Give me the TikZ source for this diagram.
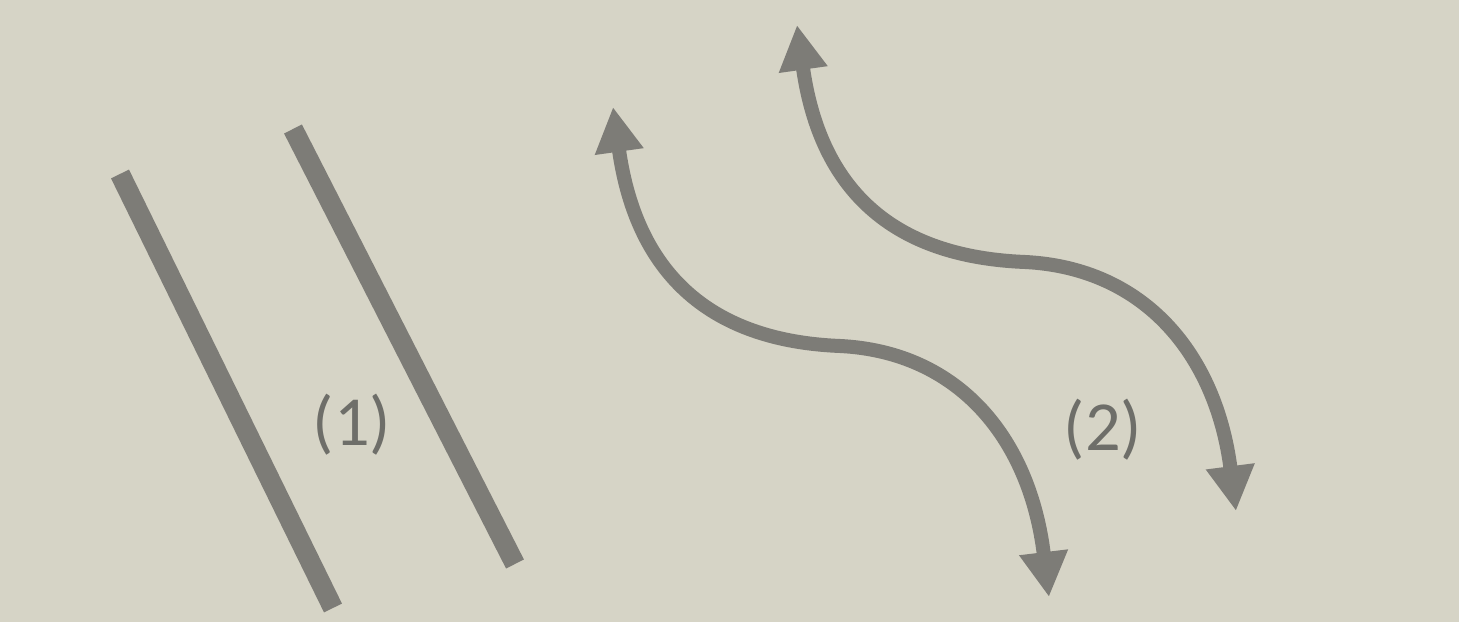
\documentclass[tikz,border=0pt]{standalone}
\usepackage{fontspec}
\setmainfont{Carlito}
\usetikzlibrary{arrows.meta}
\definecolor{paper}{RGB}{214,212,198}
\definecolor{ink}{RGB}{125,124,119}
\definecolor{txt}{RGB}{110,110,105}
\tikzset{
  bar/.style={draw=ink, line width=0.2cm},
  curvearrow/.style={draw=ink, line width=0.14cm, {Triangle[width=0.46cm,length=0.45cm]}-{Triangle[width=0.46cm,length=0.45cm]}},
  lbl/.style={text=txt, font=\fontsize{20pt}{24pt}\selectfont, inner sep=0pt}
}
\begin{document}
\begin{tikzpicture}[x=0.01cm,y=-0.01cm]
\fill[paper] (0,0) rectangle (1459,622);
\useasboundingbox (0,0) rectangle (1459,622);
% straight lines
\coordinate (a1) at (120,174);
\coordinate (a2) at (333,608);
\coordinate (b1) at (293,129);
\coordinate (b2) at (515,564);
\draw[bar] (a1) -- (a2);
\draw[bar] (b1) -- (b2);
\node[lbl] (l1) at (352,425) {(1)};
% curved arrows
\coordinate (c1) at (613,107);
\coordinate (cm) at (840,346);
\coordinate (c2) at (1049,597);
\draw[curvearrow] (c1) .. controls (640,300) and (740,342) .. (cm) .. controls (960,352) and (1030,440) .. (c2);
\coordinate (d1) at (797,25);
\coordinate (dm) at (1025,262);
\coordinate (d2) at (1236,511);
\draw[curvearrow] (d1) .. controls (824,218) and (925,258) .. (dm) .. controls (1145,268) and (1216,355) .. (d2);
\node[lbl] (l2) at (1103,430) {(2)};
\end{tikzpicture}
\end{document}
